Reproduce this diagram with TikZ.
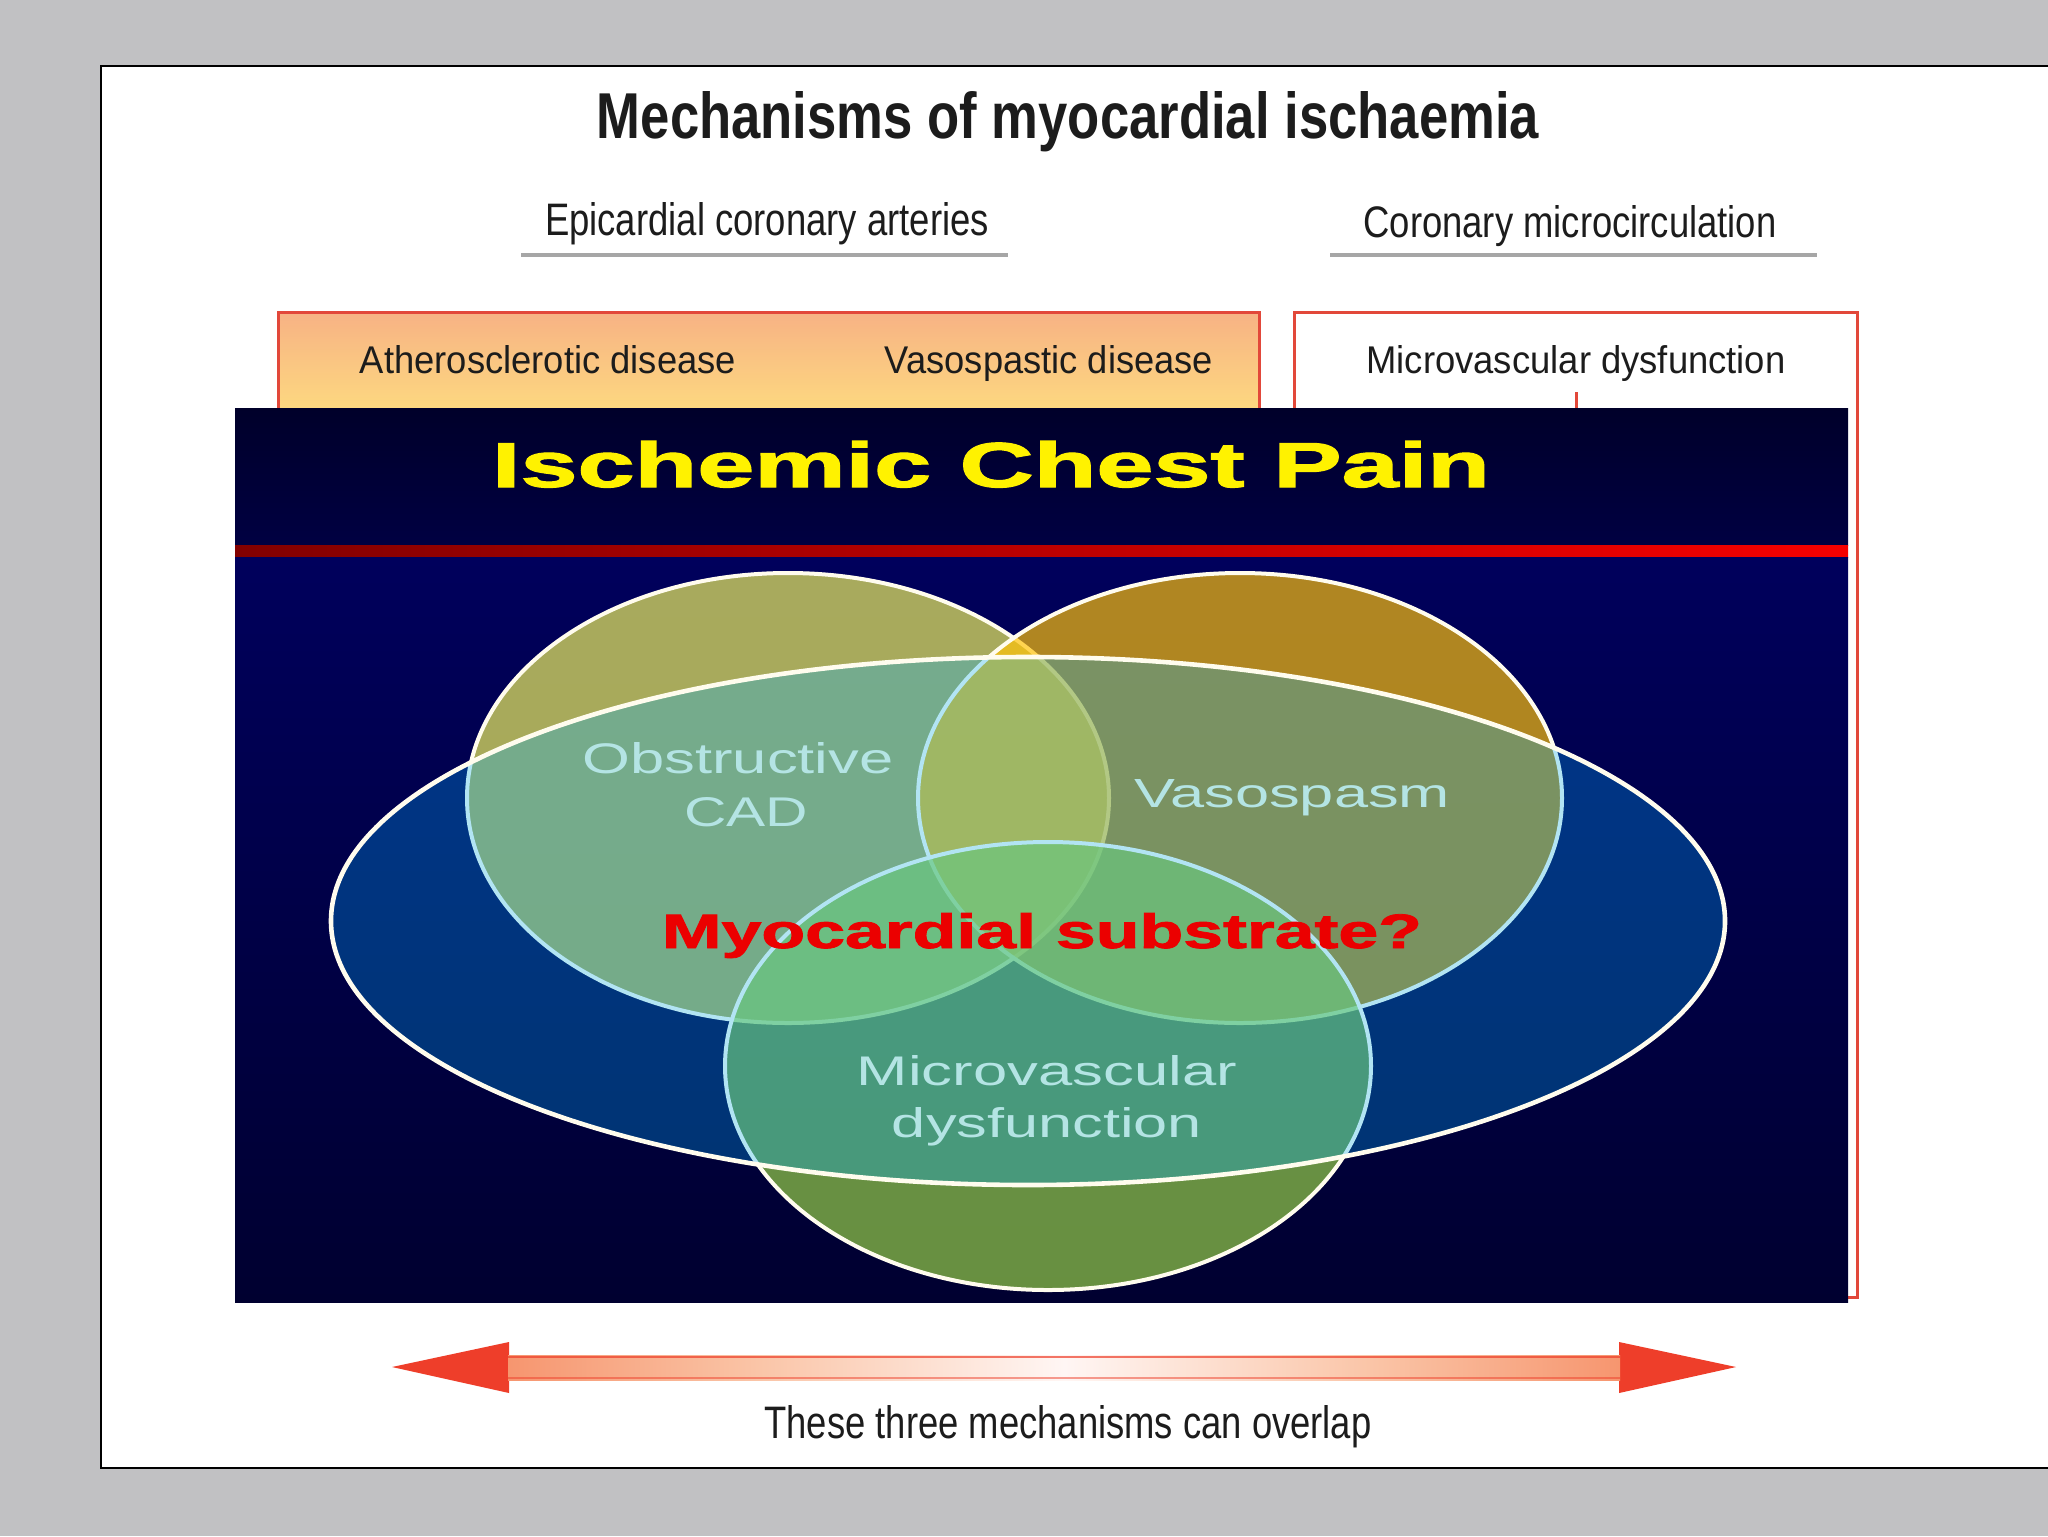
\documentclass[tikz,border=0pt]{standalone}
\usepackage{fontspec}
\setmainfont{Liberation Sans}
\newfontfamily\heavyfont{Liberation Sans}[BoldFeatures={FakeBold=1.6}]

\newlength\px
\setlength\px{0.5pt}
\newcommand{\fitpx}[3]{\resizebox{#1\px}{#2\px}{#3}}

\definecolor{slidegray}{RGB}{193,193,195}
\definecolor{inktext}{RGB}{28,28,28}
\definecolor{boxred}{RGB}{226,72,58}
\definecolor{boxtop}{RGB}{247,178,132}
\definecolor{boxbot}{RGB}{253,216,128}
\definecolor{navyA}{RGB}{0,0,42}
\definecolor{navyB}{RGB}{0,0,66}
\definecolor{navyC}{RGB}{0,0,92}
\definecolor{navyD}{RGB}{0,0,128}
\definecolor{navyE}{RGB}{0,0,48}
\definecolor{bandred}{RGB}{245,0,0}
\definecolor{banddark}{RGB}{130,0,0}
\definecolor{vennL}{RGB}{240,243,95}
\definecolor{vennR}{RGB}{255,195,10}
\definecolor{vennB}{RGB}{152,210,72}
\definecolor{vennBig}{RGB}{0,175,255}
\definecolor{vennline}{RGB}{255,252,238}
\definecolor{venntext}{RGB}{180,228,228}
\definecolor{arrowred}{RGB}{238,62,42}
\definecolor{arroworange}{RGB}{244,120,76}
\definecolor{arrowpeach}{RGB}{250,196,166}
\definecolor{arrowpale}{RGB}{255,246,244}

\pgfdeclarehorizontalshading{shaftshade}{100bp}{color(0bp)=(arrowred); color(18bp)=(arroworange);
    color(36bp)=(arrowpeach); color(50bp)=(arrowpale); color(64bp)=(arrowpeach);
    color(82bp)=(arroworange); color(100bp)=(arrowred)}

\tikzset{
    txt/.style={inner sep=0pt, anchor=base, text=inktext},
    venntxt/.style={inner sep=0pt, anchor=base, text=venntext},
    venn/.style={draw=vennline, line width=2pt}
}

\begin{document}
\begin{tikzpicture}[x=0.5pt, y=-0.5pt]
    \useasboundingbox (0,0) rectangle (2048,1536);
    \fill[slidegray] (0,0) rectangle (2048,1536);
    \fill[white] (101,66) rectangle (2048,1468);
    \draw[line width=1.2pt] (2048,66) -- (101,66) -- (101,1468) -- (2048,1468);

    % figure behind the slide
    \path node[txt] (TITLE) at (1068,138) {\fitpx{942}{47}{\bfseries Mechanisms of myocardial ischaemia}}
        node[txt] (EPI) at (767,235) {\fitpx{444}{33}{Epicardial coronary arteries}}
        node[txt] (MICRO) at (1570,237) {\fitpx{413}{32}{Coronary microcirculation}};
    \draw[gray!70, line width=1.8pt] (521,255) -- (1008,255);
    \draw[gray!70, line width=1.8pt] (1330,255) -- (1817,255);

    \shade[top color=boxtop, bottom color=boxbot] (278,312) rectangle (1259,409);
    \draw[boxred, line width=1.5pt] (278,409) -- (278,312) -- (1259,312) -- (1259,409);
    \draw[boxred, line width=1.5pt] (1294,409) -- (1294,312) -- (1857,312) -- (1857,1297) -- (1848,1297);
    \path node[txt] (ATH) at (548,373) {\fitpx{376}{28}{Atherosclerotic disease}}
        node[txt] (VASO) at (1049,373) {\fitpx{328}{28}{Vasospastic disease}}
        node[txt] (MVD) at (1576,373) {\fitpx{419}{28}{Microvascular dysfunction}};
    \coordinate (MVDstub) at (1576,392);
    \draw[boxred, line width=1.5pt] (MVDstub) -- ++(0,17);

    % the slide
    \shade[top color=navyA, bottom color=navyB] (235,408) rectangle (1848,545);
    \shade[left color=banddark, right color=bandred] (235,545) rectangle (1848,557);
    \shade[top color=navyC, middle color=navyD, bottom color=navyE] (235,557) rectangle (1848,1302);
    \node[inner sep=0pt, anchor=base, text=yellow] (ICP) at (991,487) {\fitpx{998}{46}{\heavyfont\bfseries Ischemic Chest Pain}};

    \path[venn, fill=vennL, fill opacity=0.7] (788,798) ellipse [x radius=321, y radius=225];
    \path[venn, fill=vennR, fill opacity=0.69] (1240,798) ellipse [x radius=322, y radius=225];
    \path[venn, fill=vennB, fill opacity=0.69] (1048,1066) ellipse [x radius=323, y radius=224];
    \path[fill=vennBig, fill opacity=0.3] (1028,921) ellipse [x radius=697, y radius=264];
    \path[venn, line width=2.3pt] (1028,921) ellipse [x radius=697, y radius=264];

    \path node[venntxt] (OBS) at (738,773) {\fitpx{311}{31}{Obstructive}}
        node[venntxt] (CAD) at (746,826) {\fitpx{124}{29}{CAD}}
        node[venntxt] (VSP) at (1292,807) {\fitpx{316}{28}{Vasospasm}}
        node[venntxt] (MV1) at (1047,1085) {\fitpx{380}{30}{Microvascular}}
        node[venntxt] (MV2) at (1047,1137) {\fitpx{310}{30}{dysfunction}}
        node[inner sep=0pt, anchor=base, text=red!92!black] (MYO) at (1042,948) {\fitpx{760}{35}{\heavyfont\bfseries Myocardial substrate?}};

    % overlap arrow
    \fill[arrowred] (392,1367) -- (509,1342) -- (509,1393) -- cycle;
    \fill[arrowred] (1736,1367) -- (1619,1342) -- (1619,1393) -- cycle;
    \shade[shading=shaftshade] (508,1355) rectangle (1620,1380);
    \draw[arrowred, opacity=0.7, line width=1.2pt] (508,1357) -- (1620,1357);
    \draw[arrowred, opacity=0.5, line width=1.2pt] (508,1378) -- (1620,1378);
    \node[txt] (OVL) at (1068,1438) {\fitpx{607}{33}{These three mechanisms can overlap}};
\end{tikzpicture}
\end{document}
